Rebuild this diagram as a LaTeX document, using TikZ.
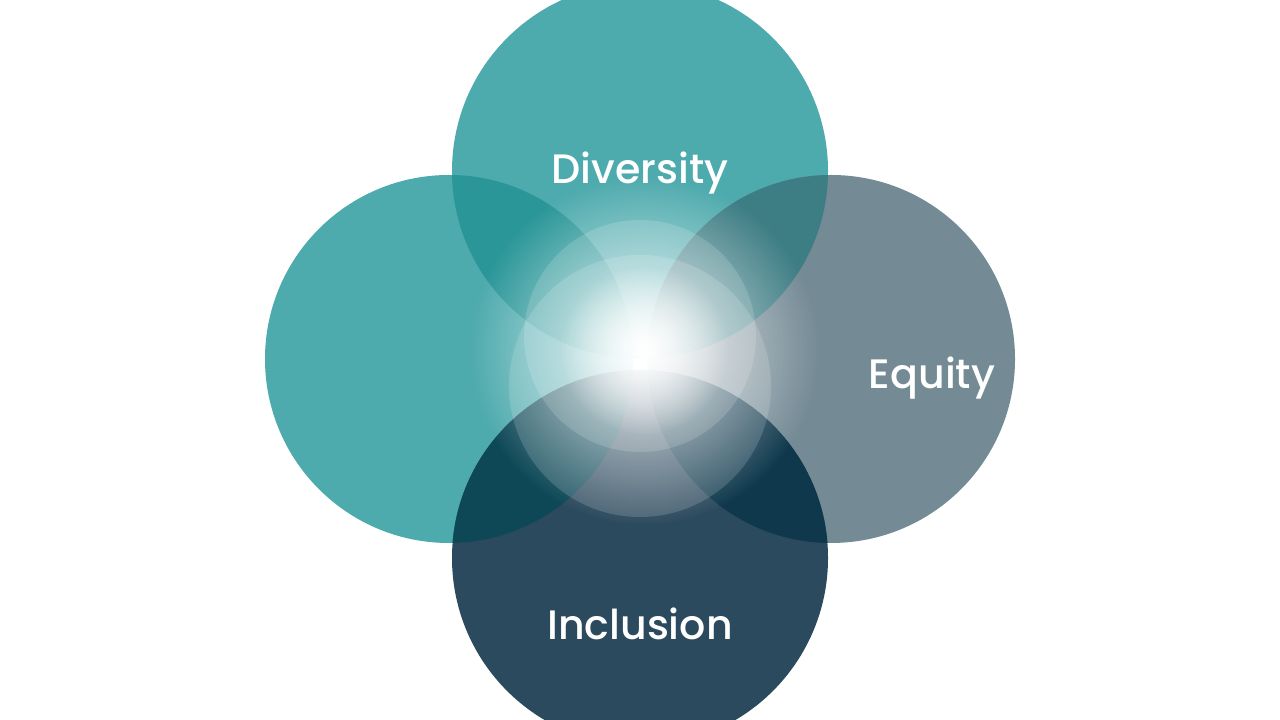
\documentclass[tikz,border=0pt]{standalone}
\usepackage{fontspec}
\setmainfont{Poppins}[BoldFont=* Medium]
\usepackage{tikz}
\usetikzlibrary{fadings}
\definecolor{divteal}{HTML}{4DAAAD}
\definecolor{eqgray}{HTML}{748A95}
\definecolor{incnavy}{HTML}{2C4A5E}
\definecolor{lensdl}{HTML}{2A9698}
\definecolor{lensde}{HTML}{3D7D84}
\definecolor{lensli}{HTML}{0E4857}
\definecolor{lensei}{HTML}{0F384C}
\tikzstyle{word}=[text = white, font = \bfseries\fontsize{11.7pt}{14pt}\selectfont, anchor = base, inner sep = 0pt]
\tikzstyle{halo}=[white, opacity = .15]
\tikzfading[name = glowfade, inner color = transparent!0, outer color = transparent!100]

\begin{document}
\begin{tikzpicture}
\useasboundingbox (0, 0) rectangle (12.8, 7.2);
\fill [white] (0, 0) rectangle (12.8, 7.2);
\clip (0, 0) rectangle (12.8, 7.2);
\coordinate (div) at (6.40, 5.49);
\coordinate (lft) at (4.49, 3.61);
\coordinate (eq) at (8.31, 3.61);
\coordinate (inc) at (6.40, 1.62);
\coordinate (glow) at (6.44, 3.70);
%%%%%%%%%%%%%%%%%%%%%%%
\fill [divteal] (div) circle (1.88);
\fill [divteal] (lft) circle (1.84);
\fill [eqgray] (eq) circle (1.84);
\fill [incnavy] (inc) circle (1.88);
\begin{scope}
\clip (div) circle (1.88);
\fill [lensdl] (lft) circle (1.84);
\fill [lensde] (eq) circle (1.84);
\end{scope}
\begin{scope}
\clip (inc) circle (1.88);
\fill [lensli] (lft) circle (1.84);
\fill [lensei] (eq) circle (1.84);
\end{scope}
%%%%%%%%%%%%%%%%%%%%%%%
\fill [halo] (6.40, 3.84) circle (1.16);
\fill [halo] (6.40, 3.34) circle (1.31);
\fill [white, opacity = .85, path fading = glowfade] (glow) circle (1.75);
\fill [white, path fading = glowfade] (glow) circle (.85);
%%%%%%%%%%%%%%%%%%%%%%%
\node (divtext) at (6.40, 5.36) [word] {Diversity};
\node (eqtext) at (9.32, 3.31) [word] {Equity};
\node (inctext) at (6.40, 0.80) [word] {Inclusion};
\end{tikzpicture}
\end{document}
